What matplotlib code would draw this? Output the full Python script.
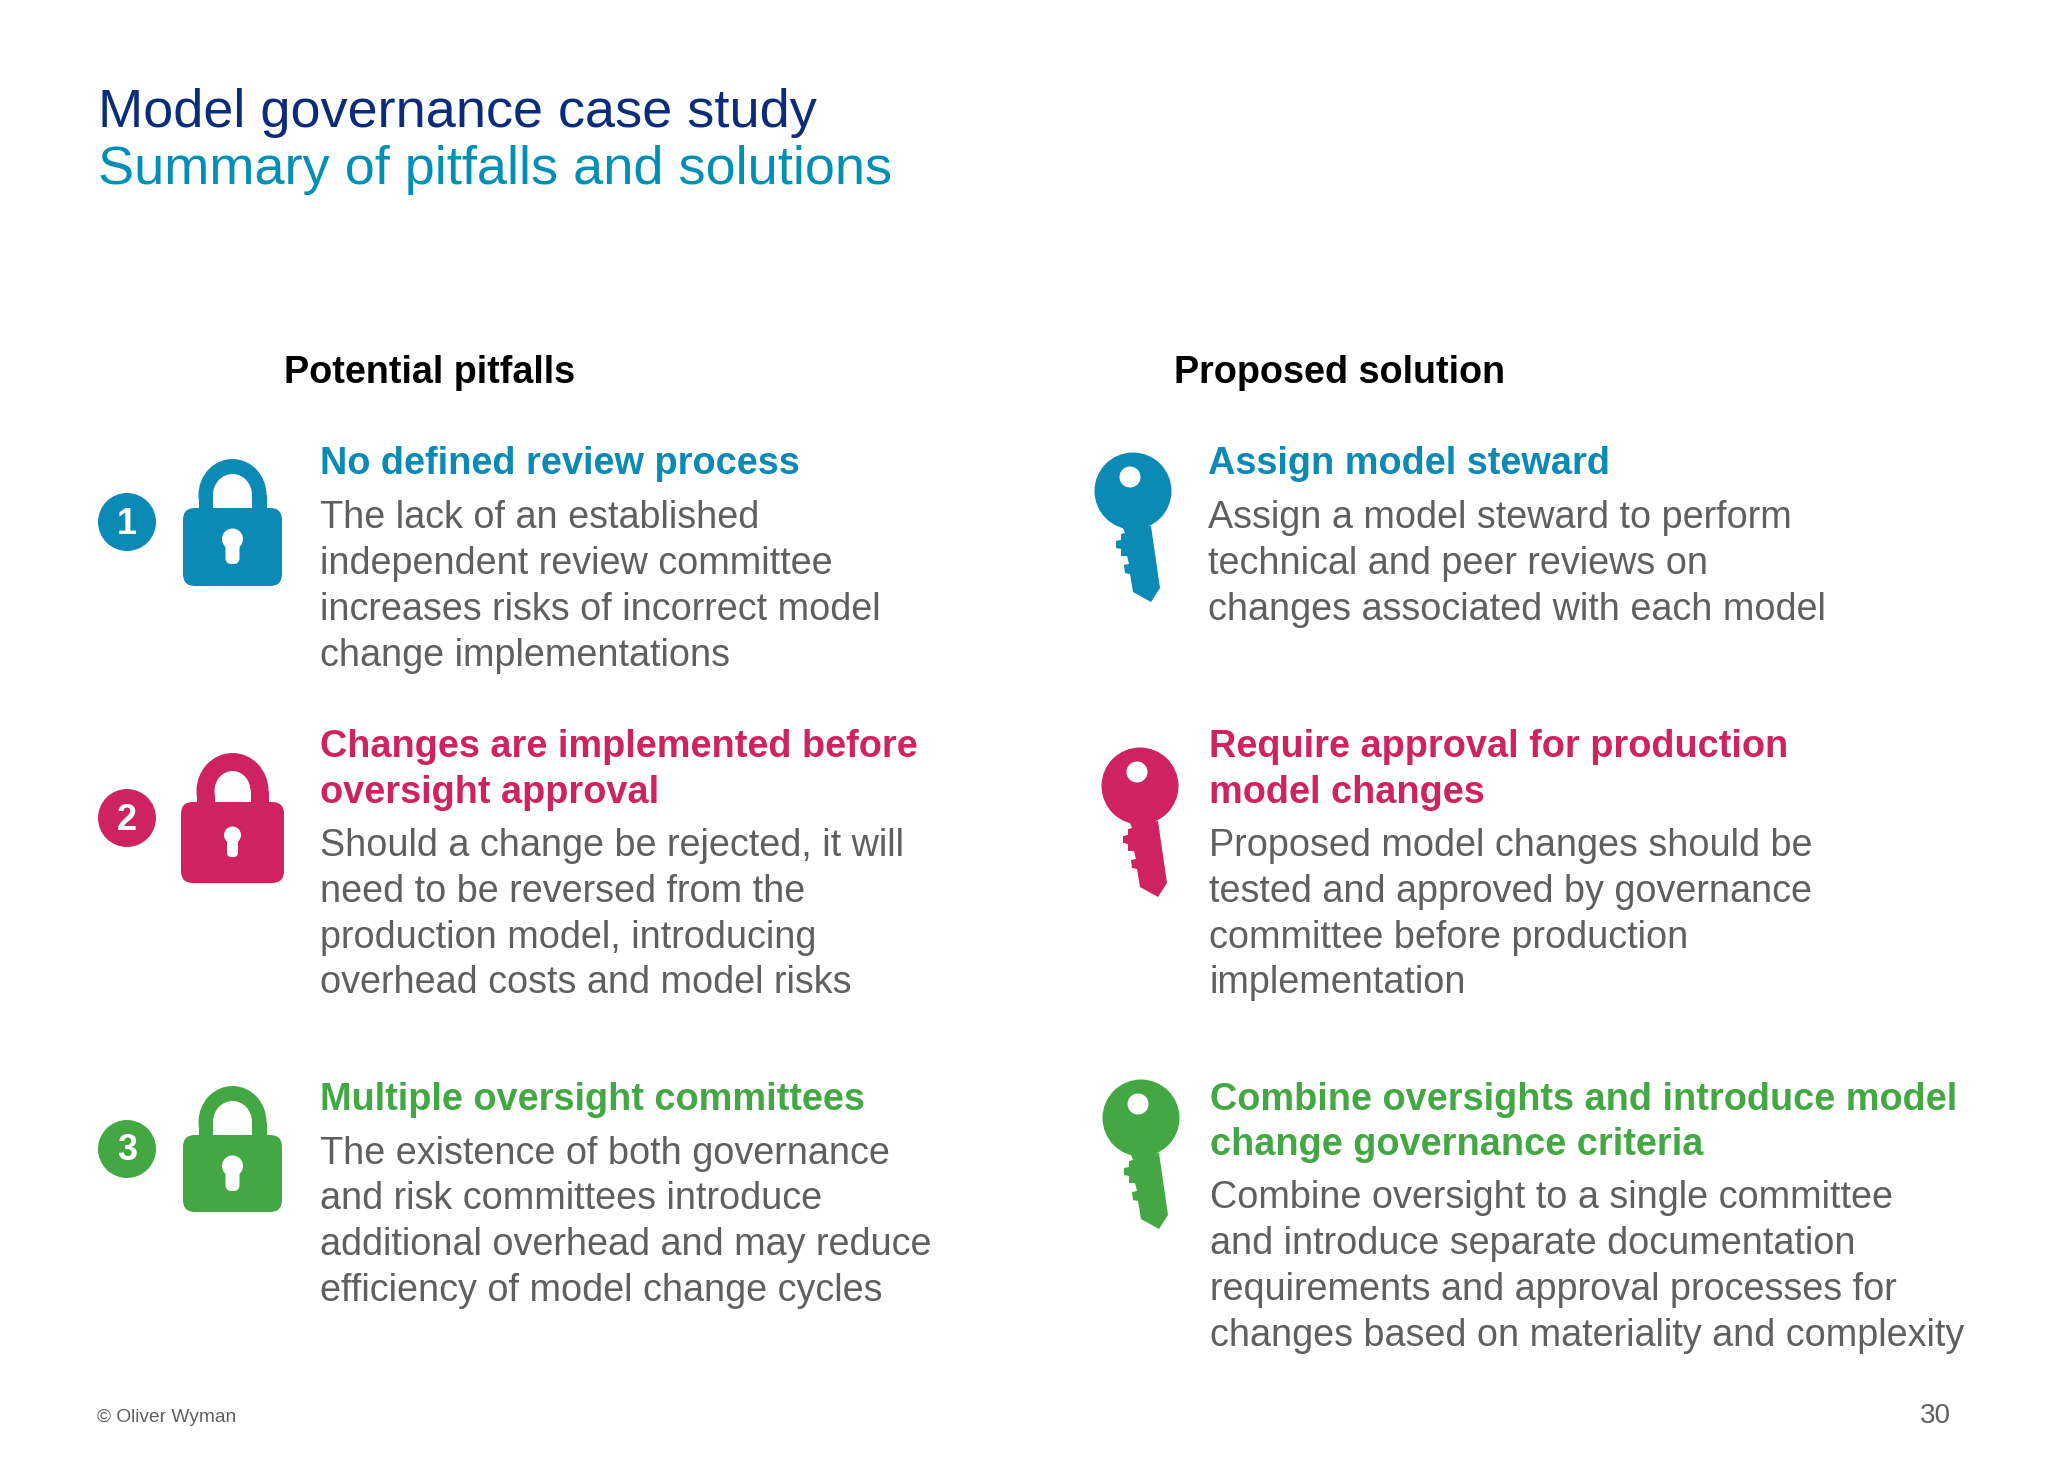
import matplotlib
matplotlib.use('Agg')
import matplotlib.pyplot as plt
from matplotlib.patches import Circle, Ellipse, Rectangle, FancyBboxPatch, Polygon

plt.rcParams['font.family'] = ['Liberation Sans', 'DejaVu Sans']

## slide text
title = 'Model governance case study'
subtitle = 'Summary of pitfalls and solutions'
col_heads = ['Potential pitfalls', 'Proposed solution']
numbers = ['1', '2', '3']

pitfall_heads = [['No defined review process'],
                 ['Changes are implemented before', 'oversight approval'],
                 ['Multiple oversight committees']]
pitfall_body = [['The lack of an established', 'independent review committee',
                 'increases risks of incorrect model', 'change implementations'],
                ['Should a change be rejected, it will', 'need to be reversed from the',
                 'production model, introducing', 'overhead costs and model risks'],
                ['The existence of both governance', 'and risk committees introduce',
                 'additional overhead and may reduce', 'efficiency of model change cycles']]
solution_heads = [['Assign model steward'],
                  ['Require approval for production', 'model changes'],
                  ['Combine oversights and introduce model', 'change governance criteria']]
solution_body = [['Assign a model steward to perform', 'technical and peer reviews on',
                  'changes associated with each model'],
                 ['Proposed model changes should be', 'tested and approved by governance',
                  'committee before production', 'implementation'],
                 ['Combine oversight to a single committee', 'and introduce separate documentation',
                  'requirements and approval processes for', 'changes based on materiality and complexity']]
footer = '\u00a9 Oliver Wyman'
page = '30'

colors = ['#0A8AB5', '#CE2360', '#43A843']
GREY = '#5F5F5F'

W, H = 2048, 1462
fig = plt.figure(figsize=(W / 100, H / 100), dpi=100)
ax = fig.add_axes([0, 0, 1, 1])
ax.set_xlim(0, W)
ax.set_ylim(H, 0)
ax.axis('off')

HEAD_SIZE = 27.3
BODY_SIZE = 27.2
LEAD = 45.8


def draw_lock(cx, half_w, top, body_top, bottom, sh_cy, sh_out, sh_in, in_top, key_y, key_r, key_bot, key_hw, c):
    # shackle first, body goes over it
    ax.add_patch(Ellipse((cx, sh_cy), 2 * sh_out, 2 * (sh_cy - top), color=c, lw=0))
    ax.add_patch(Rectangle((cx - sh_out, sh_cy), 2 * sh_out, body_top - sh_cy + 2, color=c, lw=0))
    ax.add_patch(Ellipse((cx, sh_cy), 2 * sh_in, 2 * (sh_cy - in_top), color='white', lw=0))
    ax.add_patch(Rectangle((cx - sh_in, sh_cy), 2 * sh_in, body_top - sh_cy, color='white', lw=0))
    ax.add_patch(FancyBboxPatch((cx - half_w + 12, body_top + 12), 2 * half_w - 24, bottom - body_top - 24,
                                boxstyle='round,pad=12,rounding_size=12', color=c, lw=0))
    # keyhole
    ax.add_patch(Circle((cx, key_y), key_r, color='white', lw=0))
    ax.add_patch(FancyBboxPatch((cx - 1, key_y + key_hw), 2, key_bot - key_y - 2 * key_hw,
                                boxstyle='round,pad=%g,rounding_size=%g' % (key_hw - 1, key_hw - 1),
                                color='white', lw=0))


def draw_key(cx, cy, c):
    blade = [(-10, 37), (18, 35), (27, 97), (18, 111), (0, 101), (-3, 83), (-8, 82), (-9, 74),
             (-4, 73), (-6, 65), (-12, 65), (-12, 58), (-17, 57), (-17, 50), (-12, 49), (-12, 43), (-8, 42)]
    ax.add_patch(Polygon([(cx + x, cy + y) for x, y in blade], closed=True, color=c, lw=0))
    ax.add_patch(Circle((cx, cy), 38.5, color=c, lw=0))
    ax.add_patch(Circle((cx - 3, cy - 14), 10.5, color='white', lw=0))


def draw_lines(x, baselines, lines, **kw):
    for yy, s in zip(baselines, lines):
        ax.text(x, yy, s, va='baseline', ha='left', **kw)


ax.text(98, 127, title, fontsize=39, color='#0A2C7A', va='baseline')
ax.text(98, 184, subtitle, fontsize=39, color='#0090B5', va='baseline')
ax.text(284, 383, col_heads[0], fontsize=27.2, fontweight='bold', color='black', va='baseline')
ax.text(1173.5, 383, col_heads[1], fontsize=27.2, fontweight='bold', color='black', va='baseline')

head_y = [474, 757, 1109.5]
left_body_y = [528.5, 856, 1163.5]
right_body_y = [528.5, 856, 1208.5]
right_x = [1208, 1209, 1210]
circle_y = [522, 818, 1149]
key_c = [(1133, 491), (1140, 786), (1141, 1118)]
# cx, half_w, top, body_top, bottom, shackle cy, outer, inner, inner top, keyhole y, r, bottom, half width
lock_geom = [(232.5, 49.5, 459, 508, 586, 495, 34, 19.5, 474, 539, 10.5, 565, 7),
             (232.5, 51.5, 753, 802, 883, 791, 36, 18, 771, 835, 8.5, 858, 5.5),
             (232.5, 49.5, 1086, 1135, 1212, 1122, 34, 19.5, 1101, 1166, 10.5, 1192, 7)]

for i in range(3):
    c = colors[i]
    ax.add_patch(Circle((127, circle_y[i]), 29, color=c, lw=0))
    ax.text(127, circle_y[i] + 2, numbers[i], color='white', fontsize=26, fontweight='bold',
            ha='center', va='center')
    draw_lock(*lock_geom[i], c)
    draw_key(key_c[i][0], key_c[i][1], c)

    draw_lines(320, [head_y[i] + LEAD * k for k in range(len(pitfall_heads[i]))], pitfall_heads[i],
               fontsize=HEAD_SIZE, fontweight='bold', color=c)
    draw_lines(320, [left_body_y[i] + LEAD * k for k in range(4)], pitfall_body[i],
               fontsize=BODY_SIZE, color=GREY)
    draw_lines(right_x[i], [head_y[i] + LEAD * k for k in range(len(solution_heads[i]))], solution_heads[i],
               fontsize=HEAD_SIZE, fontweight='bold', color=c)
    draw_lines(right_x[i], [right_body_y[i] + LEAD * k for k in range(len(solution_body[i]))], solution_body[i],
               fontsize=BODY_SIZE, color=GREY)

ax.text(97, 1421.5, footer, fontsize=13.8, color=GREY, va='baseline')
ax.text(1951, 1423, page, fontsize=20, color=GREY, va='baseline', ha='right')

fig.savefig('out.png', dpi=100)
